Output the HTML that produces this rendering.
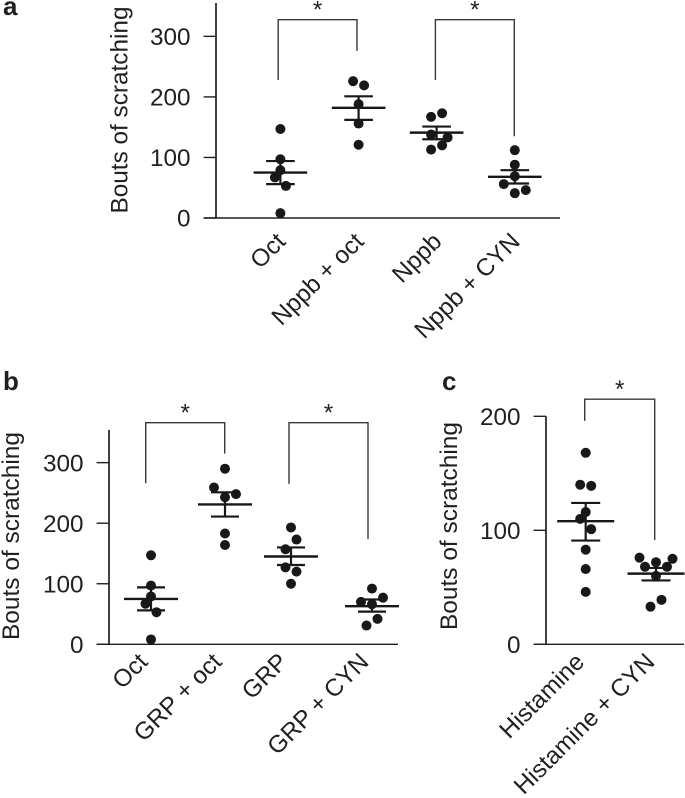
<!DOCTYPE html>
<html lang="en">
<head>
<meta charset="utf-8">
<title>Bouts of scratching</title>
<style>
html,body{margin:0;padding:0;background:#fff;}
svg{display:block;}
text{font-family:"Liberation Sans",Arial,sans-serif;fill:#231f20;}
</style>
</head>
<body>
<svg id="fig" xmlns="http://www.w3.org/2000/svg" width="685" height="798" viewBox="0 0 685 798">
  <rect width="685" height="798" fill="#fff"/>
  <text x="3" y="15" font-size="26" font-weight="bold">a</text>
  <text x="3" y="390" font-size="26" font-weight="bold">b</text>
  <text x="442" y="390" font-size="26" font-weight="bold">c</text>
</svg>
<script>
// Panel a data
const aCategories = ["Oct", "Nppb + oct", "Nppb", "Nppb + CYN"];
const aTicks = [0, 100, 200, 300];
const aValues = [
  [147, 97, 79, 67, 53, 8],
  [226, 219, 188, 156, 121],
  [173, 167, 138, 133, 120, 113],
  [112, 88, 69, 56, 46, 41]
];
const aSlots = [
  [0, 0, 0, -1, 1, 0],
  [-1, 1, 0, 0, 0],
  [1, -1, -1, 2, 1, -1],
  [0, 0, 0, -2, 2, 0]
];
const aMeans = [75, 182, 141, 68];
const aUpper = [94, 201, 151, 79];
const aLower = [56, 162, 130, 57];

// Panel b data
const bCategories = ["Oct", "GRP + oct", "GRP", "GRP + CYN"];
const bTicks = [0, 100, 200, 300];
const bValues = [
  [147, 97, 79, 67, 53, 8],
  [290, 259, 248, 243, 183, 164],
  [193, 173, 157, 127, 120, 100],
  [92, 77, 70, 66, 42, 31]
];
const bSlots = [
  [0, 0, 0, -1, 1, 0],
  [0, -2, 2, 0, 0, 0],
  [0, 1, -1, -1, 1, 0],
  [0, 2, -2, 0, 1, -1]
];
const bMeans = [75, 231, 145, 63];
const bUpper = [94, 251, 160, 74];
const bLower = [56, 211, 131, 54];

// Panel c data
const cCategories = ["Histamine", "Histamine + CYN"];
const cTicks = [0, 100, 200];
const cValues = [
  [168, 140, 139, 116, 110, 101, 83, 66, 46],
  [76, 75, 72, 68, 68, 60, 39, 33]
];
const cSlots = [
  [0, -1, 1, 0, -1, 1, 0, 0, 0],
  [-3, 3, 0, -2, 2, 0, 1, -1]
];
const cMeans = [108, 62];
const cUpper = [124, 67];
const cLower = [91, 56];

const SVGNS = "http://www.w3.org/2000/svg";
const fig = document.getElementById("fig");
const INK = "#231f20";
const BRACKET = "#3a3839";
const FONT = 24.3;

function mk(parent, tag, attrs) {
  const el = document.createElementNS(SVGNS, tag);
  for (const k in attrs) el.setAttribute(k, attrs[k]);
  parent.appendChild(el);
  return el;
}

function drawPanel(p) {
  const g = mk(fig, "g", {});
  
  

  const y = v => p.zeroY - v * p.pxPerUnit;
  const x = i => p.catX[i];

  const yAxis = mk(g, "line", {x1: p.axisX, x2: p.axisX, y1: y(0), y2: y(p.axisMax), stroke: INK, "stroke-width": 1.7});
  
  

  const xAxis = mk(g, "line", {x1: p.axisX - 12.4, x2: p.axisEnd, y1: y(0), y2: y(0), stroke: INK, "stroke-width": 1.4});
  
  

  p.ticks.forEach(t => {
    const tick = mk(g, "line", {x1: p.axisX - 12.4, x2: p.axisX, y1: y(t), y2: y(t), stroke: INK, "stroke-width": 1.4});
    
    
    const lab = mk(g, "text", {x: p.axisX - 25.5, y: y(t) + 8.7, "font-size": FONT, "text-anchor": "end"});
    lab.textContent = t;
    
    
  });

  const title = mk(g, "text", {
    transform: "translate(" + p.titleX + "," + p.titleY + ") rotate(-90)",
    "font-size": FONT, "text-anchor": "middle", textLength: p.titleLen, lengthAdjust: "spacingAndGlyphs"
  });
  title.textContent = "Bouts of scratching";
  
  

  p.categories.forEach((c, i) => {
    const lab = mk(g, "text", {
      transform: "translate(" + (x(i) + p.labelDx) + "," + (y(0) + p.labelDy) + ") rotate(-45)",
      "font-size": FONT, "text-anchor": "end"
    });
    lab.textContent = c;
    
    

    p.values[i].forEach((v, j) => {
      const dot = mk(g, "circle", {cx: x(i) + p.slotPx * p.slots[i][j], cy: y(v), r: 5, fill: "#1a1718"});
      
      
    });

    const stem = mk(g, "line", {x1: x(i), x2: x(i), y1: y(p.upper[i]), y2: y(p.lower[i]), stroke: "#1a1718", "stroke-width": 2.2});
    
    
    [p.upper[i], p.lower[i]].forEach((e, k) => {
      const cap = mk(g, "line", {x1: x(i) - p.capW / 2, x2: x(i) + p.capW / 2, y1: y(e), y2: y(e), stroke: "#1a1718", "stroke-width": 2.2});
      
      
    });
    const mean = mk(g, "line", {x1: x(i) - p.meanW / 2, x2: x(i) + p.meanW / 2, y1: y(p.means[i]), y2: y(p.means[i]), stroke: "#1a1718", "stroke-width": 2.4});
    
    
  });

  p.brackets.forEach((b, n) => {
    const x1 = x(b.from) + b.nudgeFrom;
    const x2 = x(b.to) + b.nudgeTo;
    const br = mk(g, "path", {
      d: "M" + x1 + " " + y(b.leftEnd) + "V" + y(b.top) + "H" + x2 + "V" + y(b.rightEnd),
      fill: "none", stroke: BRACKET, "stroke-width": 1.4
    });
    
    
    const star = mk(g, "text", {x: (x1 + x2) / 2, y: y(b.top) - 2, "font-size": FONT, "text-anchor": "middle"});
    star.textContent = "*";
    
    
  });
}

drawPanel({
  id: "a", categories: aCategories, ticks: aTicks, values: aValues, slots: aSlots,
  means: aMeans, upper: aUpper, lower: aLower,
  catX: [280.4, 358.6, 436.6, 514.8], axisX: 216, axisEnd: 560, axisMax: 355,
  zeroY: 218, pxPerUnit: 0.6055, slotPx: 5.5, capW: 28.6, meanW: 53.6,
  titleX: 127.5, titleY: 110, titleLen: 207, labelDx: 6.5, labelDy: 25,
  brackets: [
    {from: 0, to: 1, top: 327.6, leftEnd: 228, rightEnd: 276, nudgeFrom: -2.2, nudgeTo: -1.6},
    {from: 2, to: 3, top: 327.6, leftEnd: 228, rightEnd: 135, nudgeFrom: -1.2, nudgeTo: -0.5}
  ]
});

drawPanel({
  id: "b", categories: bCategories, ticks: bTicks, values: bValues, slots: bSlots,
  means: bMeans, upper: bUpper, lower: bLower,
  catX: [151, 225, 291, 372], axisX: 109, axisEnd: 398, axisMax: 354,
  zeroY: 644.3, pxPerUnit: 0.6055, slotPx: 5.5, capW: 28, meanW: 54,
  titleX: 19, titleY: 536, titleLen: 208, labelDx: -2, labelDy: 19,
  brackets: [
    {from: 0, to: 1, top: 366, leftEnd: 266, rightEnd: 315, nudgeFrom: -5.3, nudgeTo: -0.3},
    {from: 2, to: 3, top: 366, leftEnd: 265, rightEnd: 174, nudgeFrom: -2, nudgeTo: -4}
  ]
});

drawPanel({
  id: "c", categories: cCategories, ticks: cTicks, values: cValues, slots: cSlots,
  means: cMeans, upper: cUpper, lower: cLower,
  catX: [585.7, 656], axisX: 546, axisEnd: 684, axisMax: 200,
  zeroY: 644.3, pxPerUnit: 1.14, slotPx: 5.5, capW: 29, meanW: 57,
  titleX: 457, titleY: 526, titleLen: 208, labelDx: 0, labelDy: 19,
  brackets: [
    {from: 0, to: 1, top: 215, leftEnd: 196, rightEnd: 91.5, nudgeFrom: -1, nudgeTo: -1.3}
  ]
});
</script>
</body>
</html>
